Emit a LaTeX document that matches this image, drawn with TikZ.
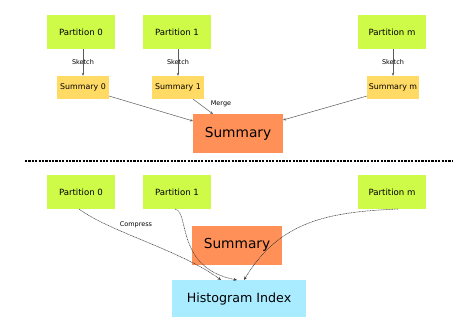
\documentclass[tikz,border=0pt]{standalone}
\usepackage{fontspec}
\setmainfont{DejaVu Sans}
\usetikzlibrary{arrows.meta}
\definecolor{partc}{RGB}{206,250,72}
\definecolor{sumc}{RGB}{255,218,100}
\definecolor{bigc}{RGB}{255,145,88}
\definecolor{histc}{RGB}{170,236,255}
\definecolor{linec}{RGB}{90,90,90}
\tikzset{
  part/.style={fill=partc, minimum width=68bp, minimum height=34bp, inner sep=0pt, font=\fontsize{8.6}{10}\selectfont},
  small/.style={fill=sumc, minimum width=52bp, minimum height=23bp, inner sep=0pt, font=\fontsize{7.9}{9}\selectfont},
  big/.style={fill=bigc, minimum width=90bp, minimum height=39bp, inner sep=0pt, font=\fontsize{13.8}{16}\selectfont},
  hist/.style={fill=histc, minimum width=134bp, minimum height=37bp, inner sep=0pt, font=\fontsize{12.7}{15}\selectfont},
  conn/.style={draw=linec, line width=0.5pt, -{Stealth[length=3pt,width=2.5pt]}},
  dconn/.style={draw=black!75, line width=0.55pt, dash pattern=on 1pt off 0.6pt, -{Stealth[length=3.5pt,width=3pt]}},
  lbl/.style={font=\fontsize{6.5}{7}\selectfont, inner sep=1pt}
}
\begin{document}
\begin{tikzpicture}[x=1bp,y=-1bp]
\useasboundingbox (0,0) rectangle (474,334);
% top section
\node[part] (p0) at (81,32) {Partition 0};
\node[part] (p1) at (177,32) {Partition 1};
\node[part] (pm) at (392,32) {Partition m};
\node[small] (s0) at (83,87.5) {Summary 0};
\node[small] (s1) at (178,87.5) {Summary 1};
\node[small] (sm) at (393,87.5) {Summary m};
\node[big] (S) at (238,133.5) {Summary};
\draw[conn] (p0.south -| s0) -- node[lbl] {Sketch} (s0.north);
\draw[conn] (p1.south -| s1) -- node[lbl] {Sketch} (s1.north);
\draw[conn] (pm.south -| sm) -- node[lbl] {Sketch} (sm.north);
\coordinate (s0e) at (109,96);
\coordinate (s1e) at (193,99);
\coordinate (sme) at (367,96);
\coordinate (Sa) at (193,121);
\coordinate (Sb) at (213,114);
\coordinate (Sc) at (283,120);
\draw[conn] (s0e) -- (Sa);
\draw[conn] (s1e) -- (Sb);
\draw[conn] (sme) -- (Sc);
\node[lbl] (merge) at (221,104) {Merge};
% separator
\coordinate (d0) at (25,161);
\coordinate (d1) at (452,161);
\draw[line width=1.6pt, dash pattern=on 2.2pt off 1.2pt] (d0) -- (d1);
% bottom section
\node[part] (q0) at (81,192) {Partition 0};
\node[part] (q1) at (177,192) {Partition 1};
\node[part] (qm) at (392,192) {Partition m};
\node[big] (T) at (237,245) {Summary};
\node[hist] (H) at (239,298.5) {Histogram Index};
\coordinate (q0s) at (79,209);
\coordinate (q1s) at (175,209);
\coordinate (qms) at (398,209);
\coordinate (h0) at (221,280);
\coordinate (h1) at (237,280);
\coordinate (hm) at (244,280);
\draw[dconn] (q0s) .. controls (110,232) and (180,250) .. (h0);
\draw[dconn] (q1s) .. controls (190,212) and (175,268) .. (h1);
\draw[dconn] (qms) .. controls (330,212) and (280,220) .. (hm);
\node[lbl] (comp) at (136,224.5) {Compress};
\end{tikzpicture}
\end{document}
